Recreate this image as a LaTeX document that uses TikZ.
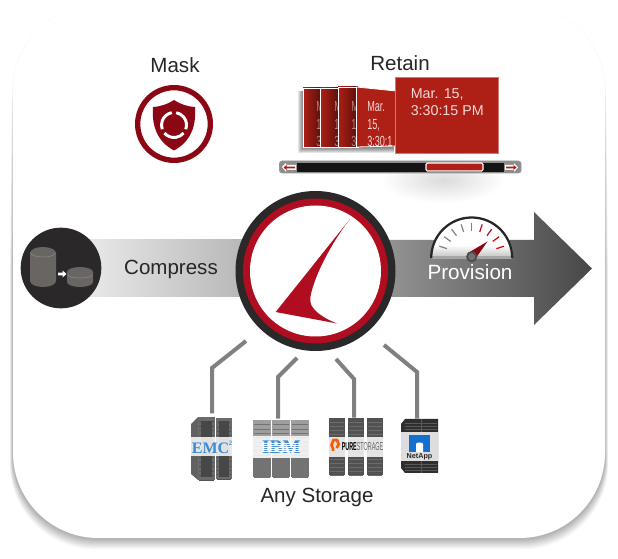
\documentclass[tikz,border=0pt]{standalone}
\usepackage{fontspec}
\usepackage{graphicx}
\setmainfont{Liberation Sans}
\newfontfamily\serifb{Liberation Serif}
\usetikzlibrary{calc}
\definecolor{brick}{HTML}{AE1F16}
\definecolor{logored}{HTML}{B00E20}
\definecolor{maskred}{HTML}{8C0714}
\definecolor{inkdark}{HTML}{2A2828}
\definecolor{linkgrey}{HTML}{808080}
\definecolor{cylgrey}{HTML}{686562}
\definecolor{cardtext}{HTML}{F3D9D6}
\definecolor{emcblue}{HTML}{3A8AD4}
\definecolor{netblue}{HTML}{1470CC}
\tikzset{
  label text/.style={font=\fontsize{15.4}{18}\selectfont, text=black!85, inner sep=0pt},
  link/.style={draw=linkgrey, line width=3pt, line join=miter},
  rackbox/.style={inner sep=0pt, draw=none},
  logoband/.style={fill=white, fill opacity=.84, draw=none},
  sidecard/.style={left color=brick, right color=brick!50!black},
  cardlabel/.style={font=\fontsize{10.7}{13.4}\selectfont, text=cardtext, inner sep=0pt, align=left, anchor=north west},
  sidecardlabel/.style={font=\fontsize{11}{13.2}\selectfont, text=cardtext, inner sep=0pt, anchor=north west},
  shieldring/.style={draw=white, line width=2.2pt},
}
\newcommand{\rackcol}[7]{% x1,y1,x2,y2,rows,base,line
  \fill[#6] (#1,#2) rectangle (#3,#4);
  \pgfmathsetmacro{\rstep}{(#4-#2)/#5}
  \foreach \k in {1,...,#5}{
    \draw[#7, line width=.3pt] (#1+1,{#2+\k*\rstep}) -- (#3-1,{#2+\k*\rstep});
  }
}
\newcommand{\narrowstamp}[1]{\scalebox{.62}[1]{\begin{tabular}{@{}l@{}}#1\end{tabular}}}
\begin{document}
\begin{tikzpicture}[x=0.75pt,y=-0.75pt]
\useasboundingbox (0,0) rectangle (618,559);
% panel with soft shadow, stronger towards the bottom
\foreach \o/\t/\e in {3.2/190/.022,2.9/170/.025,2.6/140/.03,2.3/110/.03,2/85/.035,1.7/60/.035,1.4/40/.04,1.1/25/.04,.8/12/.04,.5/5/.04}{
  \fill[black, opacity=\e, rounded corners=64pt] (13-\o,\t) rectangle (605+\o,538+\o*3.6);
}
\fill[white, rounded corners=64pt] (13,5) rectangle (605,538);
% Compress band
\shade[left color=black!8, right color=black!30] (80,240) rectangle (260,297);
% Provision arrow
\shade[left color=black!42, right color=black!72] (385,240) -- (534,240) -- (534,212) -- (592,268.5) -- (534,325) -- (534,297) -- (385,297) -- cycle;
% Compress disc
\node[circle, fill=inkdark, minimum size=60.5pt, inner sep=0pt] (disc) at (61,268) {};
\fill[cylgrey] (30,253) -- (30,281) arc[x radius=13, y radius=6, start angle=180, end angle=0] -- (56,253) arc[x radius=13, y radius=6, start angle=0, end angle=-180] -- cycle;
\draw[white, opacity=.2, line width=.5pt] (31,253) arc[x radius=12, y radius=4, start angle=180, end angle=0];
\fill[cylgrey] (67,272) -- (67,282) arc[x radius=13, y radius=5, start angle=180, end angle=0] -- (93,272) arc[x radius=13, y radius=5, start angle=0, end angle=-180] -- cycle;
\draw[white, opacity=.2, line width=.5pt] (68,275) arc[x radius=12, y radius=3, start angle=180, end angle=0];
\fill[white] (58,272.7) -- (62.5,272.7) -- (62.5,270.5) -- (66.5,274) -- (62.5,277.5) -- (62.5,275.3) -- (58,275.3) -- cycle;
\node[label text] (compress) at (171,269) {Compress};
% Centre logo
\node[circle, fill=inkdark, minimum size=120pt, inner sep=0pt] (hub) at (315.5,271) {};
\fill[logored] (hub) circle[radius=72.5];
\fill[white] (hub) circle[radius=65.5];
\fill[logored] (350,219) .. controls (335,238) and (318,268) .. (312,290) .. controls (309,300) and (310,305) .. (314,309) .. controls (319,315) and (328,320) .. (337,323.5) -- (275.7,312) -- cycle;
% Gauge
\fill[white] (431,257.5) arc[radius=41, start angle=180, end angle=360] -- cycle;
\shade[top color=white, bottom color=black!25] (434,245) -- (509,245) -- (512,258) -- (431,258) -- cycle;
\fill[black!35] (431.5,255.7) rectangle (511.5,258.7);
\draw[black!85, line width=1.7pt] (431.2,258) arc[radius=40.5, start angle=180, end angle=360];
\foreach \a/\c in {162/black!50,144/black!50,126/black!50,108/black!50,90/black!50,72/logored,54/logored,36/red!85!black,18/red!85!black}{
  \draw[\c, line width=.9pt] ({471.7+26*cos(\a)},{256.7-26*sin(\a)}) -- ({471.7+34*cos(\a)},{256.7-34*sin(\a)});
}
\fill[maskred] (468,253) -- (487.5,241.5) -- (474.5,260) -- cycle;
\fill[black!70] (471.7,256.7) circle[radius=5.6];
\fill[black!55] (471.7,256.7) circle[radius=3.5];
\node[font=\fontsize{15.5}{18}\selectfont, text=white, inner sep=0pt] (provision) at (470,272.5) {Provision};
% Mask
\node[label text] (mask) at (175,65) {Mask};
\node[circle, draw=maskred, line width=4pt, fill=white, minimum size=54.5pt, inner sep=0pt] (maskicon) at (174,124) {};
\fill[maskred] (174,100) .. controls (180,104) and (187,106.5) .. (195,107) .. controls (196.5,127) and (190,142) .. (174,150.5) .. controls (158,142) and (151.5,127) .. (153,107) .. controls (161,106.5) and (168,104) .. (174,100) -- cycle;
\foreach \sa/\ea in {100/200,220/320,340/440}{
  \draw[shieldring] ({174+12.5*cos(\sa)},{125-12.5*sin(\sa)}) arc[radius=12.5, start angle=-\sa, end angle=-\ea];
}
% Retain
\node[label text] (retain) at (400,63) {Retain};
\foreach \o in {1,2,3,4,5,6}{
  \fill[black, opacity=.1] (304-\o,91) rectangle (394,147+\o);
}
\begin{scope}
  \path[sidecard] (303,88) rectangle (322,147);
  \draw[white, line width=.7pt] (303,88) rectangle (322,147);
  \clip (303,88) rectangle (322,147);
  \node[sidecardlabel, text opacity=.55] (cardA) at (316,99) {\narrowstamp{M\\1\\3}};
\end{scope}
\begin{scope}
  \path[sidecard] (320.5,88) rectangle (340,147);
  \draw[white, line width=.7pt] (320.5,88) rectangle (340,147);
  \clip (320.5,88) rectangle (340,147);
  \node[sidecardlabel, text opacity=.55] (cardB) at (334,99) {\narrowstamp{M\\1\\3}};
\end{scope}
\begin{scope}
  \path[sidecard] (338,87) rectangle (358,147);
  \draw[white, line width=.7pt] (338,87) rectangle (358,147);
  \clip (338,87) rectangle (358,147);
  \node[sidecardlabel, text opacity=.55] (cardC) at (351,99) {\narrowstamp{M\\1\\3}};
\end{scope}
\begin{scope}
  \fill[brick] (356.5,87) -- (396,91) -- (396,146) -- (356.5,147) -- cycle;
  \draw[white, line width=.6pt] (396,91) -- (356.5,87) -- (356.5,147) -- (396,146);
  \clip (356.5,87) -- (396,91) -- (396,146) -- (356.5,147) -- cycle;
  \node[sidecardlabel] (cardD) at (367,99) {\narrowstamp{Mar.\\15,\\3:30:1}};
\end{scope}
\draw[fill=brick, draw=brick!60!white, line width=.4pt] (395,77) rectangle (498,153);
\node[cardlabel] (stamp) at (410.5,88) {Mar. 15,\\3:30:15 PM};
% Scrollbar and its shadow
\shade[inner color=black!14, outer color=white] (443,180) ellipse[x radius=62, y radius=23];
\draw[black!40, line width=.6pt, fill=black!45, rounded corners=2pt] (279.5,161) rectangle (521,173);
\fill[black!92] (297,163) rectangle (504,172);
\draw[fill=brick, draw=white, line width=.8pt, rounded corners=1pt] (426,163) rectangle (483,171);
\fill[white] (282,167) -- (286,163) -- (286,165) -- (296,165) -- (296,170) -- (286,170) -- (286,172) -- cycle;
\fill[brick] (283.5,167.5) -- (286.5,165) -- (286.5,166.7) -- (295,166.7) -- (295,168.3) -- (286.5,168.3) -- (286.5,170) -- cycle;
\fill[white] (518,167.5) -- (514,163) -- (514,165) -- (505,165) -- (505,170) -- (514,170) -- (514,172) -- cycle;
\fill[brick] (516.5,167.5) -- (513.5,165) -- (513.5,166.7) -- (506,166.7) -- (506,168.3) -- (513.5,168.3) -- (513.5,170) -- cycle;
% Storage racks
\node[rackbox, minimum width=30.75pt, minimum height=47.25pt] (emc) at (211.5,448.5) {};
\node[rackbox, minimum width=42pt, minimum height=43.5pt] (ibm) at (281,448) {};
\node[rackbox, minimum width=41.25pt, minimum height=42.75pt] (pure) at (355.5,446.5) {};
\node[rackbox, minimum width=27.75pt, minimum height=40.5pt] (netapp) at (419.5,446) {};
% EMC
\fill[black!62] (191,424) -- (198,417) -- (198,480) -- (191,474) -- cycle;
\rackcol{198}{417}{215}{480}{14}{black!58}{black!68}
\rackcol{216}{418}{232}{479}{14}{black!58}{black!68}
\fill[black!72] (201,421) rectangle (212,477);
\fill[black!72] (219,421) rectangle (229,477);
\fill[logoband] (191,437) rectangle (232,456);
\node[font=\serifb\bfseries\fontsize{12}{14}\selectfont, text=emcblue, inner sep=0pt] (emclogo) at (210.5,448) {EMC};
\node[font=\serifb\bfseries\fontsize{5}{6}\selectfont, text=emcblue, inner sep=0pt] (emcsup) at (230.5,443) {2};
% IBM
\rackcol{253}{420}{271}{477}{13}{black!38}{black!55}
\rackcol{272}{420}{290}{477}{13}{black!38}{black!55}
\rackcol{291}{420}{309}{477}{13}{black!38}{black!55}
\fill[black!55] (253,458) rectangle (271,477);
\fill[black!55] (272,458) rectangle (290,477);
\fill[black!55] (291,458) rectangle (309,477);
\fill[logoband] (253,436) rectangle (309,458);
\node[font=\serifb\bfseries\fontsize{14.5}{15}\selectfont, text=emcblue, inner sep=0pt] (ibmlogo) at (281.5,447) {IBM};
\foreach \yy in {443,445,447,449,451}{\draw[white, line width=.3pt] (262,\yy) -- (300,\yy);}
% Pure
\rackcol{329}{418}{345}{475}{14}{black!68}{black!58}
\rackcol{348}{418}{364}{475}{14}{black!68}{black!58}
\rackcol{367}{418}{383}{475}{14}{black!68}{black!58}
\fill[logoband] (328,437) rectangle (383,457);
\draw[orange!70!red, line width=2pt] (333,451) -- (333,448.5) -- (331.5,445) -- (333.5,440) -- (337,440) -- (338.7,444.5) -- (336.5,448);
\node[inner sep=0pt] (purelogo) at (362.5,447) {\resizebox{31pt}{6pt}{\bfseries PURE\mdseries\textcolor{black!60}{STORAGE}}};
% NetApp
\fill[black!82] (401,424) -- (405,419) -- (438,419) -- (438,473) -- (405,473) -- (401,468) -- cycle;
\foreach \yy in {423,426,429,464,467,470}{\draw[black!65, line width=.3pt] (405,\yy) -- (437,\yy);}
\draw[black!65, line width=.4pt] (421,419) -- (421,473);
\fill[white, opacity=.84] (401,432) rectangle (438,461);
\fill[netblue] (409,435) rectangle (430,452);
\fill[white] (416,452) -- (416,444) .. controls (416,442) and (423,442) .. (423,444) -- (423,452) -- cycle;
\node[font=\bfseries\fontsize{5.4}{6}\selectfont, text=black!85, inner sep=0pt] (netlogo) at (419.5,456.7) {NetApp};
\node[label text] (anystorage) at (317,497) {Any Storage};
% Connectors
\coordinate (a1) at (246,341); \coordinate (a2) at (212,368);
\coordinate (b1) at (297,358); \coordinate (b2) at (278,377);
\coordinate (c1) at (336,359); \coordinate (c2) at (354,379);
\coordinate (d1) at (384,345); \coordinate (d2) at (417,372);
\draw[link, shorten >=2.5pt] (a1) -- (a2) -- (a2 |- emc.north);
\draw[link] (b1) -- (b2) -- (b2 |- ibm.north);
\draw[link] (c1) -- (c2) -- (c2 |- pure.north);
\draw[link] (d1) -- (d2) -- (d2 |- netapp.north);
\end{tikzpicture}
\end{document}
